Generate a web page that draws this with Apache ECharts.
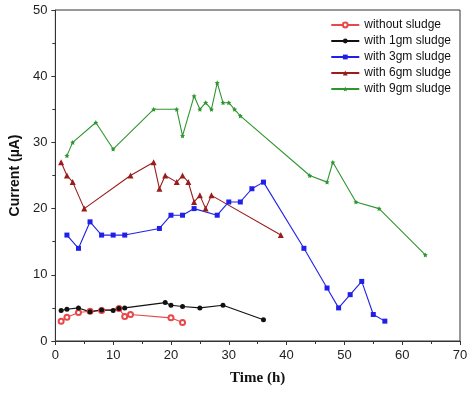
<!DOCTYPE html>
<html>
<head>
<meta charset="utf-8">
<script src="https://cdn.jsdelivr.net/npm/echarts@6/dist/echarts.min.js"></script>
<style>
  html, body { margin: 0; padding: 0; background: #fff; }
  #chart { width: 474px; height: 395px; }
</style>
</head>
<body>
<div id="chart"></div>
<script>
// data: [time (h), current (uA)]
var withoutSludge = [[1, 3.0], [2, 3.6], [4, 4.3], [6, 4.5], [8, 4.6], [11, 4.9], [12, 3.7], [13, 4.0], [20, 3.5], [22, 2.8]];
var sludge1gm = [[1, 4.6], [2, 4.8], [4, 5.0], [6, 4.4], [8, 4.7], [10, 4.6], [11, 4.9], [12, 5.0], [19, 5.8], [20, 5.4], [22, 5.2], [25, 5.0], [29, 5.4], [36, 3.2]];
var sludge3gm = [[2, 16], [4, 14], [6, 18], [8, 16], [10, 16], [12, 16], [18, 17], [20, 19], [22, 19], [24, 20], [28, 19], [30, 21], [32, 21], [34, 23], [36, 24], [43, 14], [47, 8], [49, 5], [51, 7], [53, 9], [55, 4], [57, 3]];
var sludge6gm = [[1, 27], [2, 25], [3, 24], [5, 20], [13, 25], [17, 27], [18, 23], [19, 25], [21, 24], [22, 25], [23, 24], [24, 21], [25, 22], [26, 20], [27, 22], [39, 16]];
var sludge9gm = [[2, 28], [3, 30], [7, 33], [10, 29], [17, 35], [21, 35], [22, 31], [24, 37], [25, 35], [26, 36], [27, 35], [28, 39], [29, 36], [30, 36], [31, 35], [32, 34], [44, 25], [47, 24], [48, 27], [52, 21], [56, 20], [64, 13]];

var seriesNames = ['without sludge', 'with 1gm sludge', 'with 3gm sludge', 'with 6gm sludge', 'with 9gm sludge'];

var chart = echarts.init(document.getElementById('chart'));

function line(name, data, color, symbol, size) {
  return {
    name: name,
    type: 'line',
    data: data,
    symbol: symbol,
    symbolSize: size,
    showSymbol: true,
    color: color,
    lineStyle: { width: 1.1, color: color },
    itemStyle: { color: color },
    animation: false
  };
}

var axisFont = { fontFamily: 'Liberation Sans', fontSize: 13, color: '#222' };

chart.setOption({
  backgroundColor: '#fff',
  grid: { left: 51, right: 14, top: 10, bottom: 54, show: true, borderColor: '#333', borderWidth: 1 },
  legend: {
    data: seriesNames,
    orient: 'vertical',
    right: 23,
    top: 18,
    padding: 0,
    itemWidth: 28,
    itemHeight: 6,
    itemGap: 2,
    textStyle: { fontFamily: 'Liberation Sans', fontSize: 12, color: '#111', lineHeight: 14 }
  },
  xAxis: {
    type: 'value',
    min: 0, max: 70, interval: 10,
    name: 'Time (h)',
    nameLocation: 'middle',
    nameGap: 30,
    nameTextStyle: { fontFamily: 'Liberation Serif', fontWeight: 'bold', fontSize: 15, color: '#111' },
    axisLine: { lineStyle: { color: '#333', width: 1 } },
    axisTick: { length: 4, lineStyle: { color: '#333' } },
    minorTick: { show: true, splitNumber: 2, length: 3, lineStyle: { color: '#333' } },
    axisLabel: axisFont,
    splitLine: { show: false }
  },
  yAxis: {
    type: 'value',
    min: 0, max: 50, interval: 10,
    name: 'Current (\u00b5A)',
    nameLocation: 'middle',
    nameGap: 31,
    nameTextStyle: { fontFamily: 'Liberation Sans', fontWeight: 'bold', fontSize: 14, color: '#111' },
    axisLine: { lineStyle: { color: '#333', width: 1 } },
    axisTick: { length: 4, lineStyle: { color: '#333' } },
    minorTick: { show: true, splitNumber: 2, length: 3, lineStyle: { color: '#333' } },
    axisLabel: axisFont,
    splitLine: { show: false }
  },
  series: [
    line(seriesNames[0], withoutSludge, '#e8484a', 'emptyCircle', 5),
    line(seriesNames[1], sludge1gm, '#111', 'circle', 5),
    line(seriesNames[2], sludge3gm, '#2020e8', 'rect', 5),
    line(seriesNames[3], sludge6gm, '#9a1c1c', 'triangle', 6),
    line(seriesNames[4], sludge9gm, '#2f962f', 'path://M0,-10L2.9,-4L9.5,-3.1L4.7,1.5L5.9,8.1L0,5L-5.9,8.1L-4.7,1.5L-9.5,-3.1L-2.9,-4Z', 5)
  ]
});
</script>
</body>
</html>
